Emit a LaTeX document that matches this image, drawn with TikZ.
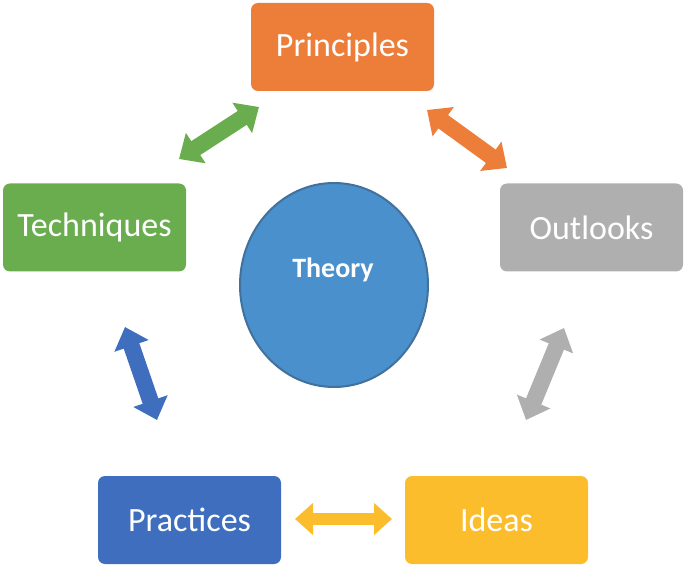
\documentclass[tikz,border=0pt]{standalone}
\usepackage{fontspec}
\setmainfont{Carlito}
\usetikzlibrary{arrows.meta,shapes.geometric}
\definecolor{cOrange}{HTML}{EC7E3A}
\definecolor{cGreen}{HTML}{6AAD4F}
\definecolor{cGray}{HTML}{AFAFAF}
\definecolor{cBlue}{HTML}{3F6EBF}
\definecolor{cGold}{HTML}{FCBD2D}
\definecolor{cTheory}{HTML}{4A90CD}
\definecolor{cTheoryB}{HTML}{41719C}
\begin{document}
\begin{tikzpicture}[x=1pt,y=1pt,
  box/.style={rectangle, rounded corners=7pt, minimum width=183pt, minimum height=88pt,
    inner sep=0pt, text=white, font=\fontsize{34}{38}\selectfont},
  blockarrow/.style={line width=16.5pt, draw=#1,
    arrows={Triangle[length=20pt,width=35pt]-Triangle[length=20pt,width=35pt]}},
  flatarrow/.style={line width=12.5pt, draw=#1,
    arrows={Triangle[length=18pt,width=31pt]-Triangle[length=18pt,width=31pt]}}
]
\useasboundingbox (0,0) rectangle (685,568);
% boxes
\node[box, fill=cOrange] (prin) at (342.5,521) {Principles};
\node[box, fill=cGreen]  (tech) at (94.5,340.5) {Techniques};
\node[box, fill=cGray]   (outl) at (591.5,340.5) {Outlooks};
\node[box, fill=cBlue]   (prac) at (189.5,48) {Practices};
\node[box, fill=cGold]   (idea) at (496.5,48) {Ideas};
% theory
\node[ellipse, fill=cTheory, draw=cTheoryB, line width=2pt, minimum width=188pt,
  minimum height=204pt, inner sep=0pt] (theo) at (334,283) {};
\node[text=white, font=\bfseries\fontsize{28}{32}\selectfont] (theolbl) at (333,298) {Theory};
% arrow ends
\coordinate (g1) at (179,409); \coordinate (g2) at (259,461);
\coordinate (o1) at (427,458); \coordinate (o2) at (507,400);
\coordinate (b1) at (125,241); \coordinate (b2) at (157,148);
\coordinate (s1) at (564,240); \coordinate (s2) at (526,148);
\coordinate (y1) at (295,49);  \coordinate (y2) at (392,49);
\draw[blockarrow=cGreen] (g1) -- (g2);
\draw[blockarrow=cOrange] (o1) -- (o2);
\draw[blockarrow=cBlue] (b1) -- (b2);
\draw[blockarrow=cGray] (s1) -- (s2);
\draw[flatarrow=cGold] (y1) -- (y2);
\end{tikzpicture}
\end{document}
